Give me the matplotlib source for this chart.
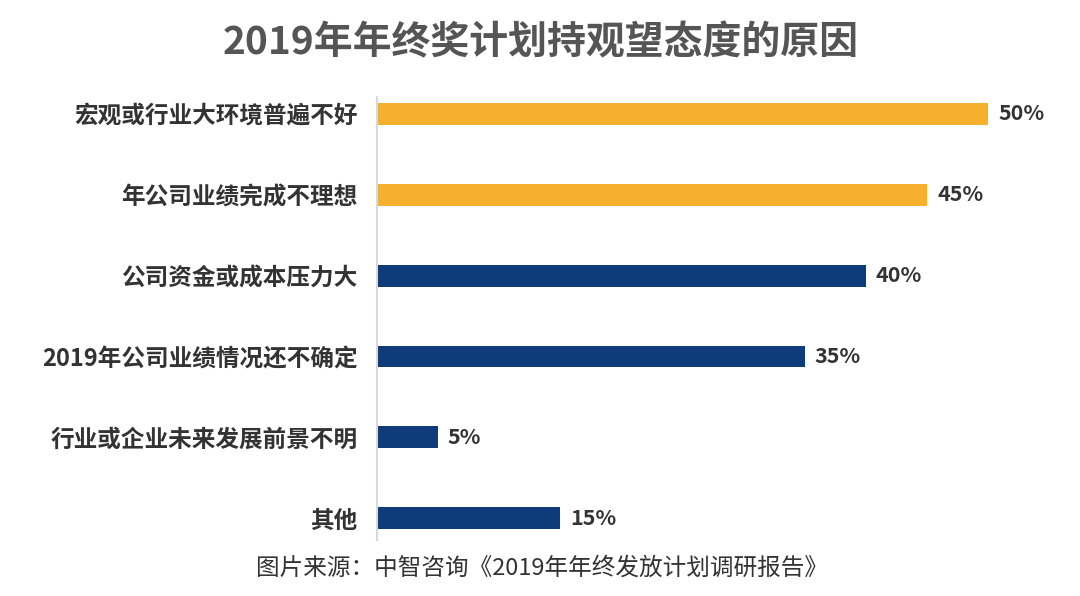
import matplotlib
matplotlib.use("Agg")
import matplotlib.pyplot as plt

plt.rcParams['font.family'] = ['Noto Sans CJK SC', 'DejaVu Sans']

categories = ["宏观或行业大环境普遍不好", "年公司业绩完成不理想", "公司资金或成本压力大",
              "2019年公司业绩情况还不确定", "行业或企业未来发展前景不明", "其他"]
values = [50, 45, 40, 35, 5, 15]
colors = ["#F5B12E", "#F5B12E", "#0F3B7A", "#0F3B7A", "#0F3B7A", "#0F3B7A"]
value_labels = ["50%", "45%", "40%", "35%", "5%", "15%"]

W, H = 1080, 596
fig = plt.figure(figsize=(W / 100, H / 100), dpi=100)
fig.patch.set_facecolor("white")

left, right = 377, 1074
top, bottom = 97, 540
ax = fig.add_axes([left / W, 1 - bottom / H, (right - left) / W, (bottom - top) / H])
ypos = list(range(len(categories)))
ax.barh(ypos, values, height=0.27, color=colors)
ax.set_xlim(0, 57)
ax.set_ylim(5.27, -0.21)

for s in ["top", "right", "bottom"]:
    ax.spines[s].set_visible(False)
ax.spines["left"].set_color("#D9D9D9")
ax.spines["left"].set_linewidth(1.5)
ax.set_xticks([])
ax.set_yticks(ypos)
ax.set_yticklabels(categories, fontsize=17, fontweight="bold", color="#333333")
ax.tick_params(axis="y", length=0, pad=14)

for y, v, t in zip(ypos, values, value_labels):
    ax.text(v + 0.8, y, t, va="center", ha="left", fontsize=15.5, fontweight="bold", color="#333333")

fig.text(541 / W, 1 - 43 / H, "2019年年终奖计划持观望态度的原因", ha="center", va="center",
         fontsize=28, fontweight="bold", color="#555555")
fig.text(542 / W, 1 - 568 / H, "图片来源：中智咨询《2019年年终发放计划调研报告》", ha="center", va="center",
         fontsize=17, color="#333333")

fig.savefig("out.png", dpi=100, facecolor="white")
